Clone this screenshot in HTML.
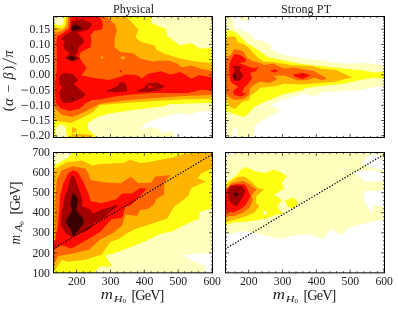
<!DOCTYPE html><html><head><meta charset="utf-8"><style>html,body{margin:0;padding:0;background:#fff;}svg{display:block;will-change:transform}</style></head><body>
<svg width="398" height="311" viewBox="0 0 398 311" font-family="Liberation Serif, serif">
<clipPath id="cTL"><rect x="53.5" y="16.5" width="159" height="121"/></clipPath>
<clipPath id="cTR"><rect x="225.5" y="16.5" width="159" height="121"/></clipPath>
<clipPath id="cBL"><rect x="53.5" y="152.5" width="159" height="120.35000000000002"/></clipPath>
<clipPath id="cBR"><rect x="225.5" y="152.5" width="159" height="120.35000000000002"/></clipPath>
<g clip-path="url(#cTL)">
<path fill="#ffffbe" d="M50 14L215 14L215 140L50 140Z"/>
<path fill="#ffffff" d="M140.2 129.6L145 123.9L157.9 118.3L164.1 116.7L180.2 112.7L189.8 115.1L196.2 111.9L215 110L215 140L177 140L172.1 131.2L160.9 133.6L160.9 129.6L151.2 127.2L148 127.2Z"/>
<path fill="#ffff14" d="M50 14L151 14L151.2 23L165.7 28.7L167.3 35.9L180.2 45.5L190.6 43.1L200.3 48.8L215 47.2L215 102.6L168.9 104.2L164 106.3L132.2 110.3L109.6 113.5L100 115.9L93.8 119.1L88 123L88 129L100 140L50 140Z"/>
<path fill="#ffffbe" d="M50 14L64 14L64 22.2L61.6 25.5L54 24L50 24Z"/>
<path fill="#ffffbe" d="M55.6 140L56.2 127.7L60.4 124.1L65.3 126.5L67.7 140Z"/>
<path fill="#ffb400" d="M66.5 14L124.1 14L138.6 29.5L135.4 37.5L140.2 41.5L154.7 45.5L156.3 49.6L164 53.6L180.2 58.4L196.2 61.6L215 63.5L215 98.6L180.2 99.4L132.2 102.6L100 105L92.2 112.7L71.3 123.1L61.6 121.5L50 120.7L50 27L54 27L62.5 28.7L65.7 24.6L66.5 14Z"/>
<path fill="#ffb400" d="M71.9 127.1L76.1 128.3L77.3 131.3L73.1 133.1L71.9 134.9Z"/>
<path fill="#ffb400" d="M71.5 134.5L80 134L91.8 135L92 140L71.5 140Z"/>
<path fill="#ff6400" d="M68.9 14L103.2 14L115.3 24.6L116.9 31.1L114.5 39.1L114.5 47.2L120.9 52L133.8 53.6L140.2 58.4L153 61.6L157.6 60.8L168.9 60.8L176.9 63.2L181.8 67.2L191.4 65.6L201 68.8L215 71.5L215 94.6L180.2 96.2L148.2 98.6L124.1 100.6L100 103.8L92 108.1L80.1 114.1L72.1 117.1L62 115.1L56 109.1L54 105L50 105L50 33.5L54 33.5L61.6 31.1L67.3 27L68.9 14Z"/>
<path fill="#ff0a00" d="M71.3 14L98.6 14L103 24L102 29.5L93.8 31.1L90.6 35.1L91.4 40.7L90.6 47.2L80.9 52L79.3 56.8L80.9 60L86.6 68L81.7 75.3L92.2 77.7L109.6 80.1L122.5 76.1L124.1 74.5L137 75.3L141.8 78.5L148.2 73.7L160.9 71.3L170.5 74.5L180.2 72L191.4 78.5L199.4 75.3L215 77.7L215 90.5L201 89.7L188.2 93L167.3 93L148.2 93L132.2 94.6L116.1 96.2L100.2 99.5L92 100L86.2 103L79.1 109.1L69.1 111.1L60 108L56 103L55.2 96L55 82L56.5 72L56.8 60L56.5 40L58 35.5L62.5 33.5L68.9 28.7L71.3 14Z"/>
<path fill="#ff0a00" d="M119.9 70.3L121.9 70.3L121.9 72.3L119.9 72.3Z"/>
<path fill="#ffb400" d="M100.8 57.6L102 56L103.4 57.6L102 59.2Z"/>
<path fill="#ffb400" d="M120 58L123 56L125.7 58L123 59.4Z"/>
<path fill="#a30000" d="M71.3 21.4L82.5 19L92.2 23.8L89 29.5L76.9 32.7L82.5 37.5L84.2 42.3L78.5 47.2L77.7 52.8L75.3 55.2L80.1 58.4L72.1 61.6L64.9 58.4L69.7 53.6L64.9 49.6L63.3 45.5L64.9 41.5L60.8 39.1L64.9 35.1L72.1 31.1L71.3 26.3Z"/>
<path fill="#a30000" d="M69.7 60L74.5 60L72.1 62Z"/>
<path fill="#a30000" d="M59.2 76.9L63.3 72.9L72.1 73.7L78.5 80.1L73.7 84.1L85.8 94.6L82.2 98L72.1 102.5L63 103L60.5 99L59.2 92.2L62.4 88.1L59.2 83.3Z"/>
<path fill="#a30000" d="M106.4 91.4L117.7 85.7L119.3 82.5L124.1 82.5L126.5 85.7L127.3 91.4L116.1 92.2Z"/>
<path fill="#a30000" d="M135.4 91.4L143.4 88.1L148.2 83.3L157.6 82.5L164.9 86.5L157.6 90.5L148 92.2Z"/>
<path fill="#ff0a00" d="M148 85L154.5 87L148 89Z"/>
<path fill="#a30000" d="M106.7 90.5L116 87.3L116 92.5Z"/>
<path fill="#3a0000" d="M71.3 27.1L76.1 24.6L82.5 27.9L76.1 30.3L71.3 31.1Z"/>
<path fill="#3a0000" d="M66.5 57.6L72.1 56L76.1 58.4L72.1 60.8Z"/>
<path fill="#3a0000" d="M71.6 46.5L72.6 46.5L72.6 49.5L71.6 49.5Z"/>
<path fill="#3a0000" d="M71.5 97.5L73 97.5L73 99.5L71.5 99.5Z"/>
</g>
<g clip-path="url(#cTR)">
<path fill="#ffffff" d="M222 14L387 14L387 140L222 140Z"/>
<path fill="#ffffbe" d="M222 14L233.6 14L234.4 27.9L240.1 29.5L248.1 32.7L254.5 39.1L264.2 41.5L272.2 45.5L270.6 49.6L286 55.5L301.1 58.5L318.7 60L336.3 63L351.3 63.5L366.4 63L387 66L387 86L371.4 87.5L361.4 90L323.7 92L313.6 96.3L303.6 92.5L296 96.5L294.4 96L282.3 100.1L270.2 105.1L280.3 110.1L266.2 118.2L254.2 126.2L253.5 140L222 140Z"/>
<path fill="#ffffbe" d="M238.5 14L253 14L247 21L240 20Z"/>
<path fill="#ffffff" d="M233.6 128.6L236.9 128.6L237.5 140L232 140Z"/>
<path fill="#ffff14" d="M222 30.3L228 30.5L233.6 31.1L240.1 35.9L246.5 43.1L256.2 48.8L261 52L268 57.2L284.1 60.4L300.2 63.7L320 66.1L344.1 68.5L360.2 70.1L374.7 72.5L387 71.7L387 78.9L373 78.1L361.8 79.7L344.1 83.8L320 86.2L303.4 88.6L304 90L284.3 94L274.3 98L264.2 102.1L254.2 107.1L248.1 114.1L244.1 117.1L234 114.1L226 111.1L222 111Z"/>
<path fill="#ffb400" d="M222 38.7L226.8 37.1L234.1 36.3L236.5 37.9L237.3 41.9L243.7 44.3L249.3 48.3L254.2 54L259.2 59L264 61.5L272.9 62.1L292.2 65.3L313 66.1L320 68.5L336.1 70.1L352.2 77.3L336.1 81.4L320 83L300.2 84.6L284.1 83.8L276.1 86.2L260 87.8L257.2 91.1L250.1 96.1L249.1 100.1L242.1 102.1L238.1 106.1L235 109.1L230 107.1L228 102.1L222 100Z"/>
<path fill="#ff6400" d="M222 58.1L226 58.1L231 55.1L234.1 49.1L243.1 51.1L247.1 58.1L252.1 61.1L260.2 63.1L264 65.1L272.9 63.5L280.9 67L284 68.5L294 67.5L302.8 69.2L312.9 70.6L317.9 73.3L326.7 78.3L322.7 80.2L314.2 77.7L306.6 80.2L296.6 80.2L289 77.1L284.1 75.5L272.9 75.7L277.7 78.9L269.6 83L260 81.4L255.2 84L250.1 88L249.1 95.1L243.1 99.1L235 100.1L229 97.1L227 94.1L222 94Z"/>
<path fill="#ff0a00" d="M229 68.2L230 62.1L234.1 54.1L240.1 55.1L246.1 59.1L245.1 62.1L239.1 63.1L247.1 66.1L254.2 68.2L258.2 67.1L256.2 71.1L250.1 73.1L252.1 78.1L247.1 85.2L245.1 86L242.1 92.1L246.1 94.1L241.1 96.6L234 95.1L233 91.1L238.1 87L232 83L230 80.1L229 71.1Z"/>
<path fill="#ff0a00" d="M269.6 70.9L274.5 69.3L278.5 70.9L274.5 72.5Z"/>
<path fill="#ff0a00" d="M292.8 74.6L302.8 72.7L310.4 75.2L302.8 79L295.3 77.1Z"/>
<path fill="#a30000" d="M233 66.1L240.6 66.1L241.1 68.1L239.1 70.1L242.1 73.1L243.1 77.1L239.1 81.1L234 81.1L232 75.1L235 71.1L233 68.1Z"/>
<path fill="#3a0000" d="M233.5 75.1L235.5 74.6L236.6 79.1L234.5 79.6Z"/>
<path fill="#a30000" d="M301.2 73.9L304.9 75.2L302.2 76.2Z"/>
</g>
<g clip-path="url(#cBL)">
<path fill="#ffffbe" d="M50 150L215 150L215 276L50 276Z"/>
<path fill="#ffffff" d="M181.8 255.3L196.2 253.7L215 252.9L215 276L202.7 276L205.9 266.6L191.4 260.1Z"/>
<path fill="#ffff14" d="M72.9 150L215 150L215 207.3L199.4 212.1L199.4 218.5L188.2 223.3L172.1 231.4L160.9 233.8L148.2 240L132.2 246.5L112.9 253.7L105.6 255.3L112 266.6L100 266.6L90.6 276L50 276L50 167.1L60 162.3L68.1 157.4L72.9 152.6Z"/>
<path fill="#ffb400" d="M50 171.9L58.4 167.1L66.5 162.3L82.5 160.6L92.2 165.5L100.2 163.9L122.5 163.1L130.5 159.8L140.2 163.1L148 162.3L172.1 157.4L183.4 154.2L191.4 152.6L195 150L215 150L215 167.1L201 173.5L197.8 178.3L205.9 181.5L191.4 188L188.2 196L173.7 207.3L167.3 218.5L148 224.9L137 228.2L125.3 234.3L120.9 237.8L110.2 242L101.8 254.5L84.2 260.1L68.1 261.7L61.6 260.1L53.6 272.2L50 272.2Z"/>
<path fill="#ff6400" d="M55.2 201L56.8 180L61.6 170.3L72.9 166.3L85.8 168.7L89 175.1L90.6 179.9L105.1 182.4L120.9 183.2L130.5 176.7L138.6 183.2L151.4 182.4L154.7 176.7L170.5 175.1L164.1 183.2L164.1 194.4L156 199.2L154.4 204L148 208.9L140 210.1L137 216L125.3 214.6L122.3 225.2L112.9 233L100 239.4L89 249.7L71.3 253.7L58.4 256.1L53.6 264.2L50 264.2L50 245L55 241Z"/>
<path fill="#ff0a00" d="M55.2 241L57.6 228.2L59.2 212.1L60 196L61.6 190L63.3 183.2L68.1 173.5L72.9 170.3L77.7 171.9L84.2 183.2L89 195L90.6 201L101.1 203.3L116 199.2L122.5 193.6L132.2 193.6L140.2 188L146.6 188.8L140.2 196L130.5 205.6L125.3 207.1L122.3 217.7L111.7 219.2L100 232L87.6 239.5L71.3 248.5L61.6 244.9L53.6 249.7L50 249.7L50 241Z"/>
<path fill="#a30000" d="M71.3 175.1L74.5 176.7L80.1 192.8L82.5 201L82 206L89.5 209L93 213.5L102.5 209.5L110 207L116 204.8L117.5 206.5L110.5 212L104.2 217.7L93.6 223.7L89.1 229.7L80 233.5L72.9 237L66.5 234.6L60.8 224.9L61.6 212.1L64.9 196L67.3 190Z"/>
<path fill="#3a0000" d="M73.2 192.5L78 199L77.3 206L76.1 210L82.8 217.8L83.8 222.5L79 229.5L73.2 237L70.6 229.5L65.5 221.6L68.4 216.8L72.2 210L70.3 204L71.3 198Z"/>
</g>
<g clip-path="url(#cBR)">
<path fill="#ffffbe" d="M222 150L387 150L387 276L222 276Z"/>
<path fill="#ffffff" d="M222 235L244.6 231.3L259.7 233.8L272.3 237.6L282.3 238.8L294.9 235L301.1 235.2L307.4 233.8L322 238.8L323.7 239L331.2 228.9L341.3 235.2L348.8 227.7L368.9 222.6L387 218.9L387 276L222 276Z"/>
<path fill="#ffffff" d="M222 150L235.3 150L235.3 152.6L232 154.2L222 157.4Z"/>
<path fill="#ffffff" d="M361.4 163L371 154L380 155L384 162L384 170L372 168Z"/>
<path fill="#ffffff" d="M353.8 172L372 170L387 174L387 181L365 181.4Z"/>
<path fill="#ffffff" d="M364 191.5L387 190L387 207.6L374 205L371.4 213.8L363.9 200Z"/>
<path fill="#ffffff" d="M340 168.8L346.3 169.5L343 171.4Z"/>
<path fill="#ffff14" d="M222 183.2L225.6 183.2L233.6 177.5L238.5 173.5L240.1 170.3L244.9 167.1L250 168.8L254.8 171.3L264.5 172.9L274.1 169.6L282.2 172.9L287 176.1L282.2 182.5L283.8 188.9L274.1 194.6L282.2 200.2L277.1 206.4L282.8 213.7L277 214.5L264.2 218.9L248.1 221.4L237 222.5L233.6 222.2L224.5 226.3L222 227Z"/>
<path fill="#ffffbe" d="M262.6 210.9L267.4 210.9L265 215.7Z"/>
<path fill="#ffff14" d="M284.8 200.4L293.4 197.4L297 201L297.6 204.2L293.4 208.5L288.2 206.8Z"/>
<path fill="#ffb400" d="M222 186.4L225.6 186.4L230.4 181.5L238.5 176.7L244.9 176.7L251.3 181.5L257.8 188L264.2 189.6L256.2 196L256.2 202.9L259.4 206.1L254.5 212.5L243.3 217.3L232 220.5L222 222.2Z"/>
<path fill="#ff6400" d="M222 189.6L225.6 189.6L232 183.2L243.3 180.7L249.7 184.8L256.2 189.6L251.3 196L252.9 199.6L249.7 207.7L243.3 212.5L235.3 215.7L222 216.5Z"/>
<path fill="#ff0a00" d="M222 191.2L225.6 191.2L230.4 185.6L236.9 184L244.9 184.8L248.1 190L250.5 196.4L244.9 206.1L240.1 209.3L233.6 212.5L222 210.9Z"/>
<path fill="#a30000" d="M228 190L231 185.5L242 186L245.5 191L243 197L237 206.5L232 204L228.5 199Z"/>
<path fill="#3a0000" d="M233.6 192L239.3 194L235.3 197Z"/>
</g>
<path d="M53.5 248.7L212.5 154.2" stroke="#000" stroke-width="1.45" stroke-linecap="round" stroke-dasharray="0.01 2.95" fill="none" clip-path="url(#cBL)"/>
<path d="M225.5 248.7L384.5 154.2" stroke="#000" stroke-width="1.45" stroke-linecap="round" stroke-dasharray="0.01 2.95" fill="none" clip-path="url(#cBR)"/>
<path d="M56.29 137.5v-1.6M56.29 16.5v1.6M63.06 137.5v-1.6M63.06 16.5v1.6M69.83 137.5v-1.6M69.83 16.5v1.6M76.60 137.5v-3.3M76.60 16.5v3.3M83.37 137.5v-1.6M83.37 16.5v1.6M90.14 137.5v-1.6M90.14 16.5v1.6M96.91 137.5v-1.6M96.91 16.5v1.6M103.68 137.5v-1.6M103.68 16.5v1.6M110.45 137.5v-3.3M110.45 16.5v3.3M117.22 137.5v-1.6M117.22 16.5v1.6M123.99 137.5v-1.6M123.99 16.5v1.6M130.76 137.5v-1.6M130.76 16.5v1.6M137.53 137.5v-1.6M137.53 16.5v1.6M144.30 137.5v-3.3M144.30 16.5v3.3M151.07 137.5v-1.6M151.07 16.5v1.6M157.84 137.5v-1.6M157.84 16.5v1.6M164.61 137.5v-1.6M164.61 16.5v1.6M171.38 137.5v-1.6M171.38 16.5v1.6M178.15 137.5v-3.3M178.15 16.5v3.3M184.92 137.5v-1.6M184.92 16.5v1.6M191.69 137.5v-1.6M191.69 16.5v1.6M198.46 137.5v-1.6M198.46 16.5v1.6M205.23 137.5v-1.6M205.23 16.5v1.6M212.00 137.5v-3.3M212.00 16.5v3.3M53.5 135.70h3.3M212.5 135.70h-3.3M53.5 132.66h1.6M212.5 132.66h-1.6M53.5 129.62h1.6M212.5 129.62h-1.6M53.5 126.58h1.6M212.5 126.58h-1.6M53.5 123.53h1.6M212.5 123.53h-1.6M53.5 120.49h3.3M212.5 120.49h-3.3M53.5 117.45h1.6M212.5 117.45h-1.6M53.5 114.40h1.6M212.5 114.40h-1.6M53.5 111.36h1.6M212.5 111.36h-1.6M53.5 108.32h1.6M212.5 108.32h-1.6M53.5 105.28h3.3M212.5 105.28h-3.3M53.5 102.23h1.6M212.5 102.23h-1.6M53.5 99.19h1.6M212.5 99.19h-1.6M53.5 96.15h1.6M212.5 96.15h-1.6M53.5 93.10h1.6M212.5 93.10h-1.6M53.5 90.06h3.3M212.5 90.06h-3.3M53.5 87.02h1.6M212.5 87.02h-1.6M53.5 83.97h1.6M212.5 83.97h-1.6M53.5 80.93h1.6M212.5 80.93h-1.6M53.5 77.89h1.6M212.5 77.89h-1.6M53.5 74.84h3.3M212.5 74.84h-3.3M53.5 71.80h1.6M212.5 71.80h-1.6M53.5 68.76h1.6M212.5 68.76h-1.6M53.5 65.72h1.6M212.5 65.72h-1.6M53.5 62.67h1.6M212.5 62.67h-1.6M53.5 59.63h3.3M212.5 59.63h-3.3M53.5 56.59h1.6M212.5 56.59h-1.6M53.5 53.54h1.6M212.5 53.54h-1.6M53.5 50.50h1.6M212.5 50.50h-1.6M53.5 47.46h1.6M212.5 47.46h-1.6M53.5 44.41h3.3M212.5 44.41h-3.3M53.5 41.37h1.6M212.5 41.37h-1.6M53.5 38.33h1.6M212.5 38.33h-1.6M53.5 35.29h1.6M212.5 35.29h-1.6M53.5 32.24h1.6M212.5 32.24h-1.6M53.5 29.20h3.3M212.5 29.20h-3.3M53.5 26.16h1.6M212.5 26.16h-1.6M53.5 23.11h1.6M212.5 23.11h-1.6M53.5 20.07h1.6M212.5 20.07h-1.6M53.5 17.03h1.6M212.5 17.03h-1.6" stroke="#000" stroke-width="0.7" fill="none"/>
<rect x="53.5" y="16.5" width="159.0" height="121.0" fill="none" stroke="#000" stroke-width="1"/>
<path d="M228.29 137.5v-1.6M228.29 16.5v1.6M235.06 137.5v-1.6M235.06 16.5v1.6M241.83 137.5v-1.6M241.83 16.5v1.6M248.60 137.5v-3.3M248.60 16.5v3.3M255.37 137.5v-1.6M255.37 16.5v1.6M262.14 137.5v-1.6M262.14 16.5v1.6M268.91 137.5v-1.6M268.91 16.5v1.6M275.68 137.5v-1.6M275.68 16.5v1.6M282.45 137.5v-3.3M282.45 16.5v3.3M289.22 137.5v-1.6M289.22 16.5v1.6M295.99 137.5v-1.6M295.99 16.5v1.6M302.76 137.5v-1.6M302.76 16.5v1.6M309.53 137.5v-1.6M309.53 16.5v1.6M316.30 137.5v-3.3M316.30 16.5v3.3M323.07 137.5v-1.6M323.07 16.5v1.6M329.84 137.5v-1.6M329.84 16.5v1.6M336.61 137.5v-1.6M336.61 16.5v1.6M343.38 137.5v-1.6M343.38 16.5v1.6M350.15 137.5v-3.3M350.15 16.5v3.3M356.92 137.5v-1.6M356.92 16.5v1.6M363.69 137.5v-1.6M363.69 16.5v1.6M370.46 137.5v-1.6M370.46 16.5v1.6M377.23 137.5v-1.6M377.23 16.5v1.6M384.00 137.5v-3.3M384.00 16.5v3.3M225.5 135.70h3.3M384.5 135.70h-3.3M225.5 132.66h1.6M384.5 132.66h-1.6M225.5 129.62h1.6M384.5 129.62h-1.6M225.5 126.58h1.6M384.5 126.58h-1.6M225.5 123.53h1.6M384.5 123.53h-1.6M225.5 120.49h3.3M384.5 120.49h-3.3M225.5 117.45h1.6M384.5 117.45h-1.6M225.5 114.40h1.6M384.5 114.40h-1.6M225.5 111.36h1.6M384.5 111.36h-1.6M225.5 108.32h1.6M384.5 108.32h-1.6M225.5 105.28h3.3M384.5 105.28h-3.3M225.5 102.23h1.6M384.5 102.23h-1.6M225.5 99.19h1.6M384.5 99.19h-1.6M225.5 96.15h1.6M384.5 96.15h-1.6M225.5 93.10h1.6M384.5 93.10h-1.6M225.5 90.06h3.3M384.5 90.06h-3.3M225.5 87.02h1.6M384.5 87.02h-1.6M225.5 83.97h1.6M384.5 83.97h-1.6M225.5 80.93h1.6M384.5 80.93h-1.6M225.5 77.89h1.6M384.5 77.89h-1.6M225.5 74.84h3.3M384.5 74.84h-3.3M225.5 71.80h1.6M384.5 71.80h-1.6M225.5 68.76h1.6M384.5 68.76h-1.6M225.5 65.72h1.6M384.5 65.72h-1.6M225.5 62.67h1.6M384.5 62.67h-1.6M225.5 59.63h3.3M384.5 59.63h-3.3M225.5 56.59h1.6M384.5 56.59h-1.6M225.5 53.54h1.6M384.5 53.54h-1.6M225.5 50.50h1.6M384.5 50.50h-1.6M225.5 47.46h1.6M384.5 47.46h-1.6M225.5 44.41h3.3M384.5 44.41h-3.3M225.5 41.37h1.6M384.5 41.37h-1.6M225.5 38.33h1.6M384.5 38.33h-1.6M225.5 35.29h1.6M384.5 35.29h-1.6M225.5 32.24h1.6M384.5 32.24h-1.6M225.5 29.20h3.3M384.5 29.20h-3.3M225.5 26.16h1.6M384.5 26.16h-1.6M225.5 23.11h1.6M384.5 23.11h-1.6M225.5 20.07h1.6M384.5 20.07h-1.6M225.5 17.03h1.6M384.5 17.03h-1.6" stroke="#000" stroke-width="0.7" fill="none"/>
<rect x="225.5" y="16.5" width="159.0" height="121.0" fill="none" stroke="#000" stroke-width="1"/>
<path d="M56.29 272.85v-1.6M56.29 152.5v1.6M63.06 272.85v-1.6M63.06 152.5v1.6M69.83 272.85v-1.6M69.83 152.5v1.6M76.60 272.85v-3.3M76.60 152.5v3.3M83.37 272.85v-1.6M83.37 152.5v1.6M90.14 272.85v-1.6M90.14 152.5v1.6M96.91 272.85v-1.6M96.91 152.5v1.6M103.68 272.85v-1.6M103.68 152.5v1.6M110.45 272.85v-3.3M110.45 152.5v3.3M117.22 272.85v-1.6M117.22 152.5v1.6M123.99 272.85v-1.6M123.99 152.5v1.6M130.76 272.85v-1.6M130.76 152.5v1.6M137.53 272.85v-1.6M137.53 152.5v1.6M144.30 272.85v-3.3M144.30 152.5v3.3M151.07 272.85v-1.6M151.07 152.5v1.6M157.84 272.85v-1.6M157.84 152.5v1.6M164.61 272.85v-1.6M164.61 152.5v1.6M171.38 272.85v-1.6M171.38 152.5v1.6M178.15 272.85v-3.3M178.15 152.5v3.3M184.92 272.85v-1.6M184.92 152.5v1.6M191.69 272.85v-1.6M191.69 152.5v1.6M198.46 272.85v-1.6M198.46 152.5v1.6M205.23 272.85v-1.6M205.23 152.5v1.6M212.00 272.85v-3.3M212.00 152.5v3.3M53.5 268.96h1.6M212.5 268.96h-1.6M53.5 264.95h1.6M212.5 264.95h-1.6M53.5 260.93h1.6M212.5 260.93h-1.6M53.5 256.92h1.6M212.5 256.92h-1.6M53.5 252.90h3.3M212.5 252.90h-3.3M53.5 248.88h1.6M212.5 248.88h-1.6M53.5 244.87h1.6M212.5 244.87h-1.6M53.5 240.85h1.6M212.5 240.85h-1.6M53.5 236.84h1.6M212.5 236.84h-1.6M53.5 232.82h3.3M212.5 232.82h-3.3M53.5 228.80h1.6M212.5 228.80h-1.6M53.5 224.79h1.6M212.5 224.79h-1.6M53.5 220.77h1.6M212.5 220.77h-1.6M53.5 216.76h1.6M212.5 216.76h-1.6M53.5 212.74h3.3M212.5 212.74h-3.3M53.5 208.72h1.6M212.5 208.72h-1.6M53.5 204.71h1.6M212.5 204.71h-1.6M53.5 200.69h1.6M212.5 200.69h-1.6M53.5 196.68h1.6M212.5 196.68h-1.6M53.5 192.66h3.3M212.5 192.66h-3.3M53.5 188.64h1.6M212.5 188.64h-1.6M53.5 184.63h1.6M212.5 184.63h-1.6M53.5 180.61h1.6M212.5 180.61h-1.6M53.5 176.60h1.6M212.5 176.60h-1.6M53.5 172.58h3.3M212.5 172.58h-3.3M53.5 168.56h1.6M212.5 168.56h-1.6M53.5 164.55h1.6M212.5 164.55h-1.6M53.5 160.53h1.6M212.5 160.53h-1.6M53.5 156.52h1.6M212.5 156.52h-1.6" stroke="#000" stroke-width="0.7" fill="none"/>
<rect x="53.5" y="152.5" width="159.0" height="120.35000000000002" fill="none" stroke="#000" stroke-width="1"/>
<path d="M228.29 272.85v-1.6M228.29 152.5v1.6M235.06 272.85v-1.6M235.06 152.5v1.6M241.83 272.85v-1.6M241.83 152.5v1.6M248.60 272.85v-3.3M248.60 152.5v3.3M255.37 272.85v-1.6M255.37 152.5v1.6M262.14 272.85v-1.6M262.14 152.5v1.6M268.91 272.85v-1.6M268.91 152.5v1.6M275.68 272.85v-1.6M275.68 152.5v1.6M282.45 272.85v-3.3M282.45 152.5v3.3M289.22 272.85v-1.6M289.22 152.5v1.6M295.99 272.85v-1.6M295.99 152.5v1.6M302.76 272.85v-1.6M302.76 152.5v1.6M309.53 272.85v-1.6M309.53 152.5v1.6M316.30 272.85v-3.3M316.30 152.5v3.3M323.07 272.85v-1.6M323.07 152.5v1.6M329.84 272.85v-1.6M329.84 152.5v1.6M336.61 272.85v-1.6M336.61 152.5v1.6M343.38 272.85v-1.6M343.38 152.5v1.6M350.15 272.85v-3.3M350.15 152.5v3.3M356.92 272.85v-1.6M356.92 152.5v1.6M363.69 272.85v-1.6M363.69 152.5v1.6M370.46 272.85v-1.6M370.46 152.5v1.6M377.23 272.85v-1.6M377.23 152.5v1.6M384.00 272.85v-3.3M384.00 152.5v3.3M225.5 268.96h1.6M384.5 268.96h-1.6M225.5 264.95h1.6M384.5 264.95h-1.6M225.5 260.93h1.6M384.5 260.93h-1.6M225.5 256.92h1.6M384.5 256.92h-1.6M225.5 252.90h3.3M384.5 252.90h-3.3M225.5 248.88h1.6M384.5 248.88h-1.6M225.5 244.87h1.6M384.5 244.87h-1.6M225.5 240.85h1.6M384.5 240.85h-1.6M225.5 236.84h1.6M384.5 236.84h-1.6M225.5 232.82h3.3M384.5 232.82h-3.3M225.5 228.80h1.6M384.5 228.80h-1.6M225.5 224.79h1.6M384.5 224.79h-1.6M225.5 220.77h1.6M384.5 220.77h-1.6M225.5 216.76h1.6M384.5 216.76h-1.6M225.5 212.74h3.3M384.5 212.74h-3.3M225.5 208.72h1.6M384.5 208.72h-1.6M225.5 204.71h1.6M384.5 204.71h-1.6M225.5 200.69h1.6M384.5 200.69h-1.6M225.5 196.68h1.6M384.5 196.68h-1.6M225.5 192.66h3.3M384.5 192.66h-3.3M225.5 188.64h1.6M384.5 188.64h-1.6M225.5 184.63h1.6M384.5 184.63h-1.6M225.5 180.61h1.6M384.5 180.61h-1.6M225.5 176.60h1.6M384.5 176.60h-1.6M225.5 172.58h3.3M384.5 172.58h-3.3M225.5 168.56h1.6M384.5 168.56h-1.6M225.5 164.55h1.6M384.5 164.55h-1.6M225.5 160.53h1.6M384.5 160.53h-1.6M225.5 156.52h1.6M384.5 156.52h-1.6" stroke="#000" stroke-width="0.7" fill="none"/>
<rect x="225.5" y="152.5" width="159.0" height="120.35000000000002" fill="none" stroke="#000" stroke-width="1"/>
<text x="50.2" y="32.80" font-size="12.2" text-anchor="end" fill="#222" textLength="20.6" lengthAdjust="spacingAndGlyphs">0.15</text>
<text x="50.2" y="48.01" font-size="12.2" text-anchor="end" fill="#222" textLength="20.6" lengthAdjust="spacingAndGlyphs">0.10</text>
<text x="50.2" y="63.23" font-size="12.2" text-anchor="end" fill="#222" textLength="20.6" lengthAdjust="spacingAndGlyphs">0.05</text>
<text x="50.2" y="78.44" font-size="12.2" text-anchor="end" fill="#222" textLength="20.6" lengthAdjust="spacingAndGlyphs">0.00</text>
<text x="50.2" y="93.66" font-size="12.2" text-anchor="end" fill="#222" textLength="20.6" lengthAdjust="spacingAndGlyphs">0.05</text>
<rect x="21.3" y="89.71" width="6.9" height="0.75" fill="#222"/>
<text x="50.2" y="108.88" font-size="12.2" text-anchor="end" fill="#222" textLength="20.6" lengthAdjust="spacingAndGlyphs">0.10</text>
<rect x="21.3" y="104.93" width="6.9" height="0.75" fill="#222"/>
<text x="50.2" y="124.09" font-size="12.2" text-anchor="end" fill="#222" textLength="20.6" lengthAdjust="spacingAndGlyphs">0.15</text>
<rect x="21.3" y="120.14" width="6.9" height="0.75" fill="#222"/>
<text x="50.2" y="139.30" font-size="12.2" text-anchor="end" fill="#222" textLength="20.6" lengthAdjust="spacingAndGlyphs">0.20</text>
<rect x="21.3" y="135.35" width="6.9" height="0.75" fill="#222"/>
<text x="50" y="276.58" font-size="12.2" text-anchor="end" fill="#222" textLength="17.6" lengthAdjust="spacingAndGlyphs">100</text>
<text x="50" y="256.50" font-size="12.2" text-anchor="end" fill="#222" textLength="17.6" lengthAdjust="spacingAndGlyphs">200</text>
<text x="50" y="236.42" font-size="12.2" text-anchor="end" fill="#222" textLength="17.6" lengthAdjust="spacingAndGlyphs">300</text>
<text x="50" y="216.34" font-size="12.2" text-anchor="end" fill="#222" textLength="17.6" lengthAdjust="spacingAndGlyphs">400</text>
<text x="50" y="196.26" font-size="12.2" text-anchor="end" fill="#222" textLength="17.6" lengthAdjust="spacingAndGlyphs">500</text>
<text x="50" y="176.18" font-size="12.2" text-anchor="end" fill="#222" textLength="17.6" lengthAdjust="spacingAndGlyphs">600</text>
<text x="50" y="156.10" font-size="12.2" text-anchor="end" fill="#222" textLength="17.6" lengthAdjust="spacingAndGlyphs">700</text>
<text x="76.80" y="284.6" font-size="12.2" text-anchor="middle" fill="#222" textLength="17.6" lengthAdjust="spacingAndGlyphs">200</text>
<text x="110.65" y="284.6" font-size="12.2" text-anchor="middle" fill="#222" textLength="17.6" lengthAdjust="spacingAndGlyphs">300</text>
<text x="144.50" y="284.6" font-size="12.2" text-anchor="middle" fill="#222" textLength="17.6" lengthAdjust="spacingAndGlyphs">400</text>
<text x="178.35" y="284.6" font-size="12.2" text-anchor="middle" fill="#222" textLength="17.6" lengthAdjust="spacingAndGlyphs">500</text>
<text x="212.20" y="284.6" font-size="12.2" text-anchor="middle" fill="#222" textLength="17.6" lengthAdjust="spacingAndGlyphs">600</text>
<text x="248.80" y="284.6" font-size="12.2" text-anchor="middle" fill="#222" textLength="17.6" lengthAdjust="spacingAndGlyphs">200</text>
<text x="282.65" y="284.6" font-size="12.2" text-anchor="middle" fill="#222" textLength="17.6" lengthAdjust="spacingAndGlyphs">300</text>
<text x="316.50" y="284.6" font-size="12.2" text-anchor="middle" fill="#222" textLength="17.6" lengthAdjust="spacingAndGlyphs">400</text>
<text x="350.35" y="284.6" font-size="12.2" text-anchor="middle" fill="#222" textLength="17.6" lengthAdjust="spacingAndGlyphs">500</text>
<text x="384.20" y="284.6" font-size="12.2" text-anchor="middle" fill="#222" textLength="17.6" lengthAdjust="spacingAndGlyphs">600</text>
<text x="113" y="12.7" font-size="12" textLength="41" lengthAdjust="spacing" fill="#222">Physical</text>
<text x="281" y="12.7" font-size="12" textLength="50" lengthAdjust="spacing" fill="#222">Strong PT</text>
<text x="100.8" y="298.9" font-size="15" font-style="italic" fill="#222" textLength="12.2" lengthAdjust="spacingAndGlyphs">m</text>
<text x="113.8" y="302.3" font-size="9.2" font-style="italic" fill="#222" textLength="8.8" lengthAdjust="spacingAndGlyphs">H</text>
<text x="122.6" y="303.3" font-size="7" fill="#222">0</text>
<text x="131.5" y="299.6" font-size="14.3" fill="#222" textLength="32.8" lengthAdjust="spacing">[GeV]</text>
<text x="272.8" y="298.9" font-size="15" font-style="italic" fill="#222" textLength="12.2" lengthAdjust="spacingAndGlyphs">m</text>
<text x="285.8" y="302.3" font-size="9.2" font-style="italic" fill="#222" textLength="8.8" lengthAdjust="spacingAndGlyphs">H</text>
<text x="294.6" y="303.3" font-size="7" fill="#222">0</text>
<text x="303.5" y="299.6" font-size="14.3" fill="#222" textLength="32.8" lengthAdjust="spacing">[GeV]</text>
<text transform="translate(13.3 112) rotate(-90)" x="0.8" y="0" font-size="14.3"  fill="#222" >(</text>
<text transform="translate(13.3 112) rotate(-90)" x="6.0" y="0" font-size="14.3" font-style="italic" fill="#222" >α</text>
<text transform="translate(13.3 112) rotate(-90)" x="19.2" y="0" font-size="14.3"  fill="#222" >−</text>
<text transform="translate(13.3 112) rotate(-90)" x="32.6" y="0" font-size="14.3" font-style="italic" fill="#222" >β</text>
<text transform="translate(13.3 112) rotate(-90)" x="41.6" y="0" font-size="14.3"  fill="#222" >)</text>
<path d="M16.6 64.1L2.5 58.3" stroke="#222" stroke-width="0.85"/>
<text transform="translate(13.3 112) rotate(-90)" x="54.6" y="0" font-size="14.3" font-style="italic" fill="#222" >π</text>
<text transform="translate(20.4 245) rotate(-90)" x="0.5" y="0" font-size="15" font-style="italic" fill="#222" textLength="9.6" lengthAdjust="spacingAndGlyphs">m</text>
<text transform="translate(20.4 245) rotate(-90)" x="13.6" y="2.0" font-size="10.5" font-style="italic" fill="#222" textLength="7" lengthAdjust="spacingAndGlyphs">A</text>
<text transform="translate(20.4 245) rotate(-90)" x="20.2" y="3.4" font-size="7"  fill="#222" >0</text>
<text transform="translate(20.4 245) rotate(-90)" x="30.6" y="0" font-size="14.3"  fill="#222" textLength="33" lengthAdjust="spacing">[GeV]</text>
</svg></body></html>
